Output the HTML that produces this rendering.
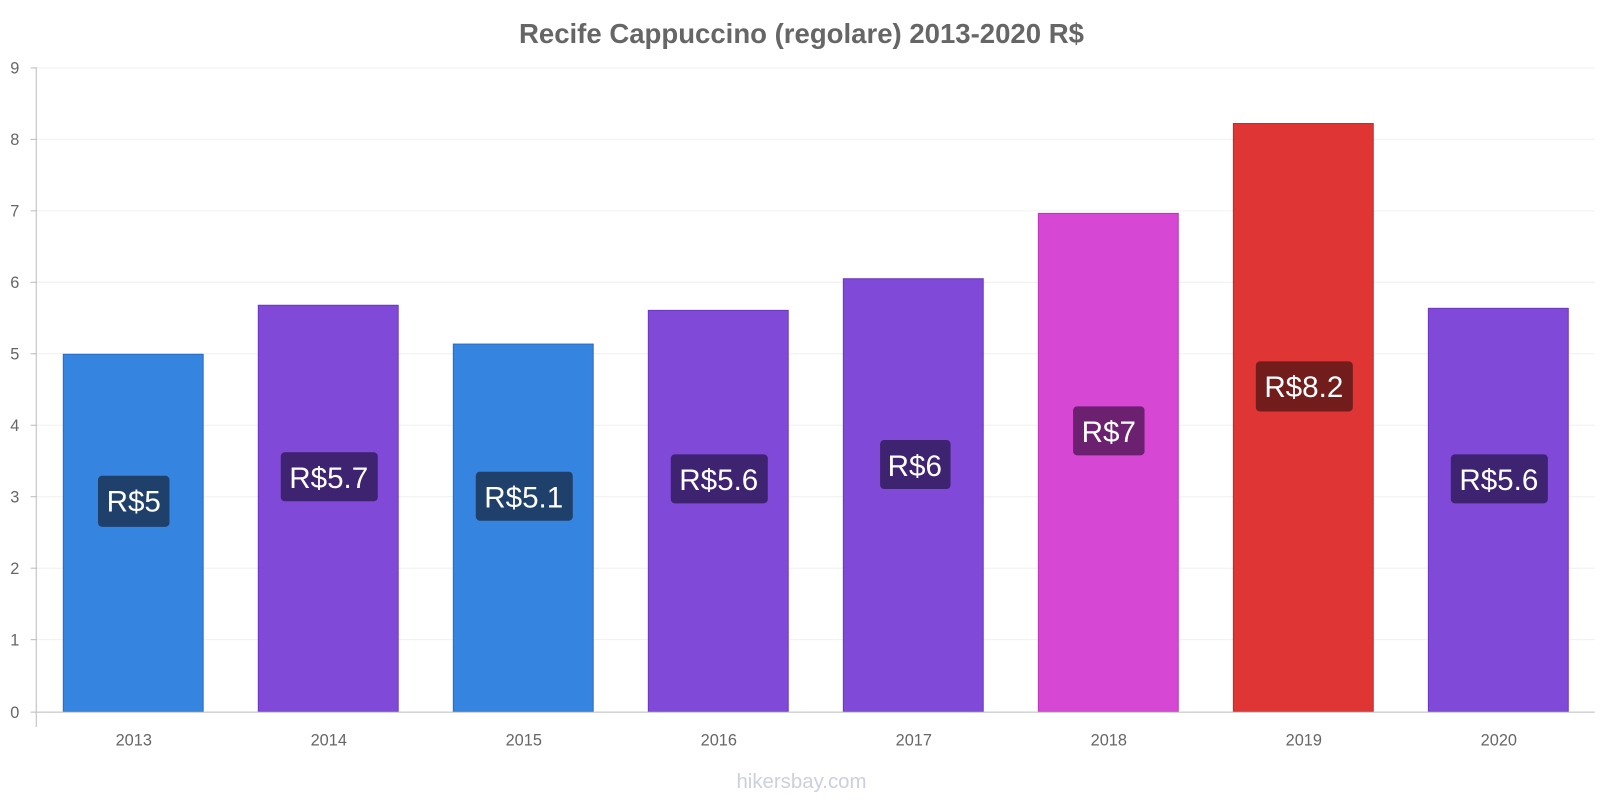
<!DOCTYPE html>
<html><head><meta charset="utf-8"><style>
body{margin:0;background:#fff;}
svg text{font-family:"Liberation Sans",sans-serif;}
</style></head><body>
<svg width="1600" height="800" xmlns="http://www.w3.org/2000/svg">
<rect width="1600" height="800" fill="#fff"/>
<g transform="scale(1.021)">
<text x="785" y="42" text-anchor="middle" font-size="27" font-weight="bold" fill="#666">Recife Cappuccino (regolare) 2013-2020 R$</text>
<g stroke="#f0f0f0" stroke-width="1">
<line x1="36" x2="1562" y1="66.5" y2="66.5"/><line x1="36" x2="1562" y1="136.5" y2="136.5"/><line x1="36" x2="1562" y1="206.5" y2="206.5"/><line x1="36" x2="1562" y1="276.5" y2="276.5"/><line x1="36" x2="1562" y1="346.5" y2="346.5"/><line x1="36" x2="1562" y1="416.5" y2="416.5"/><line x1="36" x2="1562" y1="486.5" y2="486.5"/><line x1="36" x2="1562" y1="556.5" y2="556.5"/><line x1="36" x2="1562" y1="626.5" y2="626.5"/>
</g>
<g font-size="16" fill="#666" text-anchor="end">
<text x="19" y="72">9</text><text x="19" y="142">8</text><text x="19" y="212">7</text><text x="19" y="282">6</text><text x="19" y="352">5</text><text x="19" y="422">4</text><text x="19" y="492">3</text><text x="19" y="562">2</text><text x="19" y="632">1</text><text x="19" y="703">0</text>
</g>
<g stroke="#bbb" stroke-width="1">
<line x1="30" x2="36" y1="66.5" y2="66.5"/><line x1="30" x2="36" y1="136.5" y2="136.5"/><line x1="30" x2="36" y1="206.5" y2="206.5"/><line x1="30" x2="36" y1="276.5" y2="276.5"/><line x1="30" x2="36" y1="346.5" y2="346.5"/><line x1="30" x2="36" y1="416.5" y2="416.5"/><line x1="30" x2="36" y1="486.5" y2="486.5"/><line x1="30" x2="36" y1="556.5" y2="556.5"/><line x1="30" x2="36" y1="626.5" y2="626.5"/><line x1="30" x2="36" y1="697.5" y2="697.5"/>
</g>
<rect x="62" y="347" width="137" height="350" fill="#3584e0" stroke="#2a6cc0"/>
<rect x="253" y="299" width="137" height="398" fill="#8049d8" stroke="#6a38bf"/>
<rect x="444" y="337" width="137" height="360" fill="#3584e0" stroke="#2a6cc0"/>
<rect x="635" y="304" width="137" height="393" fill="#8049d8" stroke="#6a38bf"/>
<rect x="826" y="273" width="137" height="424" fill="#8049d8" stroke="#6a38bf"/>
<rect x="1017" y="209" width="137" height="488" fill="#d647d4" stroke="#b838b6"/>
<rect x="1208" y="121" width="137" height="576" fill="#e03535" stroke="#c02828"/>
<rect x="1399" y="302" width="137" height="395" fill="#8049d8" stroke="#6a38bf"/>
<line x1="36" x2="1562" y1="697.5" y2="697.5" stroke="#bbb"/>
<line x1="35.5" x2="35.5" y1="66" y2="712" stroke="#bbb"/>
<g font-size="29" fill="#fff" text-anchor="middle">
<rect x="96" y="466" width="70" height="50" rx="4" fill="#1f406b"/><text x="131" y="501">R$5</text>
<rect x="275" y="443" width="95" height="48" rx="4" fill="#3d2370"/><text x="322" y="478">R$5.7</text>
<rect x="466" y="462" width="95" height="48" rx="4" fill="#1f406b"/><text x="513" y="497">R$5.1</text>
<rect x="657" y="445" width="95" height="48" rx="4" fill="#3d2370"/><text x="704" y="480">R$5.6</text>
<rect x="862" y="431" width="69" height="48" rx="4" fill="#3d2370"/><text x="896" y="466">R$6</text>
<rect x="1051" y="398" width="70" height="48" rx="4" fill="#6b2170"/><text x="1086" y="433">R$7</text>
<rect x="1230" y="354" width="95" height="49" rx="4" fill="#721c1c"/><text x="1277" y="389">R$8.2</text>
<rect x="1421" y="445" width="95" height="48" rx="4" fill="#3d2370"/><text x="1468" y="480">R$5.6</text>
</g>
<g font-size="16" fill="#666" text-anchor="middle">
<text x="131" y="730">2013</text><text x="322" y="730">2014</text><text x="513" y="730">2015</text><text x="704" y="730">2016</text><text x="895" y="730">2017</text><text x="1086" y="730">2018</text><text x="1277" y="730">2019</text><text x="1468" y="730">2020</text>
</g>
<text x="785" y="772" text-anchor="middle" font-size="20" fill="#ccd0dd">hikersbay.com</text>
</g>
</svg>
</body></html>
